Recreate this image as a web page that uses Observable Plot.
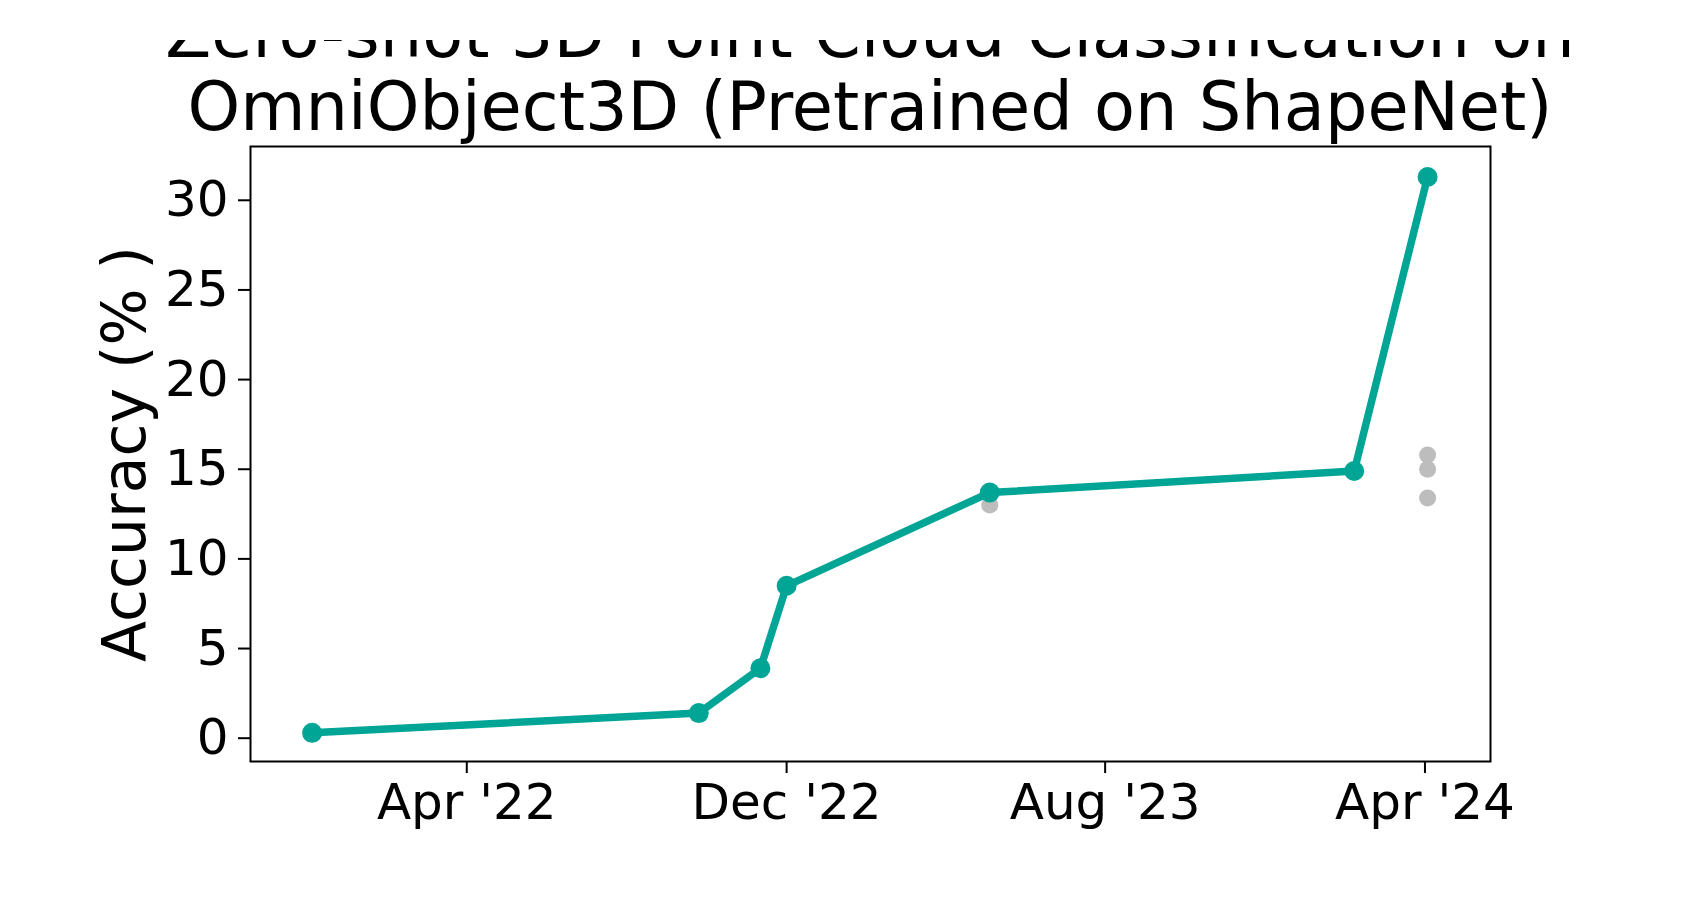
<!DOCTYPE html>
<html><head><meta charset="utf-8">
<script src="https://cdn.jsdelivr.net/npm/d3@7"></script>
<script src="https://cdn.jsdelivr.net/npm/@observablehq/plot@0.6"></script>
<style>
body{margin:0;background:#fff;}
#wrap{position:relative;width:1700px;height:900px;overflow:hidden;font-family:"DejaVu Sans",sans-serif;background:#fff;}
#chart{position:absolute;left:0;top:0;}
#title{position:absolute;left:0;top:0;}
</style></head><body>
<div id="wrap"><div id="chart"></div><svg id="title" width="1700" height="150"></svg></div>
<script>
const titleLines = ["Zero-shot 3D Point Cloud Classification on", "OmniObject3D (Pretrained on ShapeNet)"];
const yLabel = "Accuracy (% )";
const bestDates = ["2021-12-04", "2022-09-25", "2022-11-11", "2022-12-01", "2023-05-05", "2024-02-07", "2024-04-03"];
const bestValues = [0.3, 1.4, 3.9, 8.5, 13.7, 14.9, 31.3];
const otherDates = ["2023-05-05", "2024-04-03", "2024-04-03", "2024-04-03"];
const otherValues = [13.0, 15.8, 15.0, 13.4];
const xTickDates = ["2022-04-01", "2022-12-01", "2023-08-01", "2024-04-01"];
const xTickLabels = ["Apr '22", "Dec '22", "Aug '23", "Apr '24"];
const yTicks = [0, 5, 10, 15, 20, 25, 30];

const best = bestDates.map((d, i) => ({date: new Date(d), value: bestValues[i]}));
const others = otherDates.map((d, i) => ({date: new Date(d), value: otherValues[i]}));
const xTicks = xTickDates.map(d => new Date(d));
const teal = "#00a595";

const chart = Plot.plot({
  width: 1700, height: 900,
  marginLeft: 250, marginRight: 210, marginTop: 146, marginBottom: 139,
  style: {fontFamily: "DejaVu Sans", fontSize: "50px", color: "#000", background: "transparent"},
  x: {type: "utc", domain: [new Date("2021-10-18"), new Date("2024-05-21")]},
  y: {domain: [-1.3, 33.0]},
  marks: [
    Plot.axisX({ticks: xTicks, tickFormat: d => xTickLabels[xTicks.findIndex(t => +t === +d)], tickSize: 12, tickPadding: 10, label: null, strokeWidth: 2, fontSize: 50}),
    Plot.axisY({ticks: yTicks, tickSize: 12, tickPadding: 10, label: null, strokeWidth: 2, fontSize: 50}),
    Plot.text([yLabel], {text: d => d, frameAnchor: "left", textAnchor: "middle", dx: -125, rotate: -90, fontSize: 60, fill: "#000"}),
    Plot.dot(others, {x: "date", y: "value", r: 8.5, fill: "#bdbdbd"}),
    Plot.line(best, {x: "date", y: "value", stroke: teal, strokeWidth: 7.5}),
    Plot.dot(best, {x: "date", y: "value", r: 10, fill: teal}),
    Plot.frame({stroke: "#000", strokeWidth: 2})
  ]
});
document.getElementById("chart").appendChild(chart);

const t = d3.select("#title");
t.selectAll("text").data(titleLines).join("text")
  .attr("x", 870).attr("y", (d, i) => i === 0 ? 57 : 130)
  .attr("text-anchor", "middle")
  .attr("font-family", "DejaVu Sans").attr("font-size", 67).attr("fill", "#000")
  .text(d => d);
t.append("rect").attr("x", 0).attr("y", 0).attr("width", 1700).attr("height", 40).attr("fill", "#fff");
</script>
</body></html>
